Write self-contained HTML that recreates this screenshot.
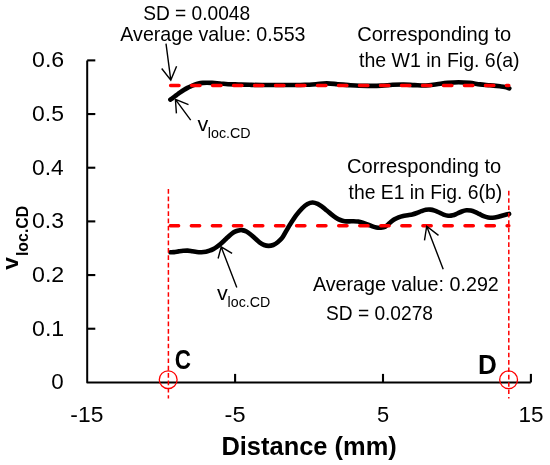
<!DOCTYPE html>
<html><head><meta charset="utf-8"><style>
html,body{margin:0;padding:0;background:#fff;}
svg{display:block;will-change:transform;}
text{font-family:"Liberation Sans", sans-serif;fill:#000;}
</style></head><body>
<svg width="550" height="465" viewBox="0 0 550 465">
<rect width="550" height="465" fill="#fff"/>
<path d="M87.2,60.38 L87.2,382.40 L530.8,382.40" fill="none" stroke="#000" stroke-width="2.0" stroke-linejoin="round"/>
<path d="M87.2,60.38 H95.3" stroke="#000" stroke-width="2.1"/>
<path d="M87.2,114.05 H95.3" stroke="#000" stroke-width="2.1"/>
<path d="M87.2,167.72 H95.3" stroke="#000" stroke-width="2.1"/>
<path d="M87.2,221.39 H95.3" stroke="#000" stroke-width="2.1"/>
<path d="M87.2,275.06 H95.3" stroke="#000" stroke-width="2.1"/>
<path d="M87.2,328.73 H95.3" stroke="#000" stroke-width="2.1"/>
<path d="M235.10,382.40 V373.9" stroke="#000" stroke-width="2.1"/>
<path d="M383.00,382.40 V373.9" stroke="#000" stroke-width="2.1"/>
<path d="M530.90,382.40 V373.9" stroke="#000" stroke-width="2.1"/>
<path d="M170.40,99.60 C170.82,99.30 171.88,98.55 172.90,97.80 C173.92,97.05 175.28,96.00 176.50,95.10 C177.72,94.20 178.98,93.25 180.20,92.40 C181.42,91.55 182.58,90.75 183.80,90.00 C185.02,89.25 186.28,88.53 187.50,87.90 C188.72,87.27 189.90,86.75 191.10,86.20 C192.30,85.65 193.48,85.05 194.70,84.60 C195.92,84.15 197.02,83.78 198.40,83.50 C199.78,83.22 201.57,83.03 203.00,82.90 C204.43,82.77 205.50,82.70 207.00,82.70 C208.50,82.70 210.33,82.82 212.00,82.90 C213.67,82.98 215.33,83.07 217.00,83.20 C218.67,83.33 220.17,83.53 222.00,83.70 C223.83,83.87 225.23,84.07 228.00,84.20 C230.77,84.33 235.02,84.40 238.60,84.50 C242.18,84.60 245.60,84.72 249.50,84.80 C253.40,84.88 256.92,84.97 262.00,85.00 C267.08,85.03 274.50,85.00 280.00,85.00 C285.50,85.00 290.83,85.03 295.00,85.00 C299.17,84.97 301.52,84.93 305.00,84.80 C308.48,84.67 312.27,84.43 315.90,84.20 C319.53,83.97 323.17,83.40 326.80,83.40 C330.43,83.40 334.07,83.92 337.70,84.20 C341.33,84.48 344.97,84.83 348.60,85.10 C352.23,85.37 355.78,85.67 359.50,85.80 C363.22,85.93 367.18,85.93 370.90,85.90 C374.62,85.87 378.17,85.78 381.80,85.60 C385.43,85.42 389.07,84.98 392.70,84.80 C396.33,84.62 399.97,84.45 403.60,84.50 C407.23,84.55 410.78,84.93 414.50,85.10 C418.22,85.27 422.18,85.65 425.90,85.50 C429.62,85.35 433.17,84.63 436.80,84.20 C440.43,83.77 444.07,83.22 447.70,82.90 C451.33,82.58 454.97,82.30 458.60,82.30 C462.23,82.30 465.93,82.55 469.50,82.90 C473.07,83.25 476.58,84.00 480.00,84.40 C483.42,84.80 486.67,84.98 490.00,85.30 C493.33,85.62 497.50,86.02 500.00,86.30 C502.50,86.58 503.45,86.65 505.00,87.00 C506.55,87.35 508.58,88.17 509.30,88.40" fill="none" stroke="#000" stroke-width="4.6" stroke-linecap="round" stroke-linejoin="round"/>
<path d="M170.50,252.30 C171.10,252.27 172.75,252.25 174.10,252.10 C175.45,251.95 177.08,251.62 178.60,251.40 C180.12,251.18 181.68,250.93 183.20,250.80 C184.72,250.67 186.18,250.52 187.70,250.60 C189.22,250.68 190.78,251.07 192.30,251.30 C193.82,251.53 195.28,251.85 196.80,252.00 C198.32,252.15 199.88,252.25 201.40,252.20 C202.92,252.15 204.55,251.95 205.90,251.70 C207.25,251.45 208.28,251.13 209.50,250.70 C210.72,250.27 211.98,249.73 213.20,249.10 C214.42,248.47 215.58,247.75 216.80,246.90 C218.02,246.05 219.28,245.03 220.50,244.00 C221.72,242.97 222.90,241.82 224.10,240.70 C225.30,239.58 226.48,238.42 227.70,237.30 C228.92,236.18 230.18,234.95 231.40,234.00 C232.62,233.05 233.82,232.20 235.00,231.60 C236.18,231.00 237.33,230.65 238.50,230.40 C239.67,230.15 240.68,229.92 242.00,230.10 C243.32,230.28 244.92,230.73 246.40,231.50 C247.88,232.27 249.43,233.53 250.90,234.70 C252.37,235.87 253.77,237.23 255.20,238.50 C256.63,239.77 258.02,241.22 259.50,242.30 C260.98,243.38 262.58,244.40 264.10,245.00 C265.62,245.60 267.08,245.90 268.60,245.90 C270.12,245.90 271.68,245.60 273.20,245.00 C274.72,244.40 276.18,243.52 277.70,242.30 C279.22,241.08 280.82,239.70 282.30,237.70 C283.78,235.70 285.23,232.62 286.60,230.30 C287.97,227.98 288.88,226.32 290.50,223.80 C292.12,221.28 294.37,217.78 296.30,215.20 C298.23,212.62 300.23,210.17 302.10,208.30 C303.97,206.43 305.75,204.97 307.50,204.00 C309.25,203.03 310.90,202.52 312.60,202.50 C314.30,202.48 316.08,203.18 317.70,203.90 C319.32,204.62 320.78,205.70 322.30,206.80 C323.82,207.90 325.28,209.23 326.80,210.50 C328.32,211.77 329.88,213.20 331.40,214.40 C332.92,215.60 334.42,216.77 335.90,217.70 C337.38,218.63 338.85,219.42 340.30,220.00 C341.75,220.58 343.13,220.97 344.60,221.20 C346.07,221.43 347.60,221.40 349.10,221.40 C350.60,221.40 352.08,221.17 353.60,221.20 C355.12,221.23 356.68,221.35 358.20,221.60 C359.72,221.85 361.18,222.25 362.70,222.70 C364.22,223.15 365.78,223.73 367.30,224.30 C368.82,224.87 370.28,225.57 371.80,226.10 C373.32,226.63 374.88,227.23 376.40,227.50 C377.92,227.77 379.42,227.85 380.90,227.70 C382.38,227.55 383.83,227.38 385.30,226.60 C386.77,225.82 388.23,224.18 389.70,223.00 C391.17,221.82 392.62,220.45 394.10,219.50 C395.58,218.55 397.08,217.90 398.60,217.30 C400.12,216.70 401.68,216.25 403.20,215.90 C404.72,215.55 406.18,215.45 407.70,215.20 C409.22,214.95 410.78,214.77 412.30,214.40 C413.82,214.03 415.28,213.53 416.80,213.00 C418.32,212.47 419.88,211.73 421.40,211.20 C422.92,210.67 424.42,210.07 425.90,209.80 C427.38,209.53 428.83,209.47 430.30,209.60 C431.77,209.73 433.23,210.12 434.70,210.60 C436.17,211.08 437.62,211.83 439.10,212.50 C440.58,213.17 442.08,214.07 443.60,214.60 C445.12,215.13 446.68,215.58 448.20,215.70 C449.72,215.82 451.18,215.67 452.70,215.30 C454.22,214.93 455.78,214.13 457.30,213.50 C458.82,212.87 460.28,212.03 461.80,211.50 C463.32,210.97 464.92,210.45 466.40,210.30 C467.88,210.15 469.30,210.35 470.70,210.60 C472.10,210.85 473.40,211.25 474.80,211.80 C476.20,212.35 477.63,213.17 479.10,213.90 C480.57,214.63 482.08,215.60 483.60,216.20 C485.12,216.80 486.68,217.23 488.20,217.50 C489.72,217.77 491.18,217.87 492.70,217.80 C494.22,217.73 495.78,217.45 497.30,217.10 C498.82,216.75 500.28,216.15 501.80,215.70 C503.32,215.25 505.18,214.70 506.40,214.40 C507.62,214.10 508.65,213.98 509.10,213.90" fill="none" stroke="#000" stroke-width="4.6" stroke-linecap="round" stroke-linejoin="round"/>
<path d="M168.4,189.1 V398.5" stroke="#ff0000" stroke-width="1.5" stroke-dasharray="4.7 2.66"/>
<path d="M508.8,190.8 V398.5" stroke="#ff0000" stroke-width="1.5" stroke-dasharray="4.6 2.76"/>
<path d="M170.6,85.5 H508.8" stroke="#ff0000" stroke-width="3.5" stroke-linecap="round" stroke-dasharray="8.4 12.59"/>
<path d="M170.3,225.65 H508.8" stroke="#ff0000" stroke-width="3.5" stroke-linecap="round" stroke-dasharray="8.3 12.75"/>
<circle cx="168.2" cy="379.7" r="8.9" fill="none" stroke="#ff0000" stroke-width="1.3"/>
<circle cx="508.6" cy="379.8" r="8.9" fill="none" stroke="#ff0000" stroke-width="1.3"/>
<path d="M166.0,43.6 L170.8,80.1 M161.7,68.5 L170.8,80.1 L176.6,66.2" fill="none" stroke="#000" stroke-width="1.4" stroke-linejoin="miter" stroke-linecap="butt"/>
<path d="M190.7,120.1 L175.4,99.4 M176.4,113.4 L175.4,99.4 L188.5,104.6" fill="none" stroke="#000" stroke-width="1.4" stroke-linejoin="miter" stroke-linecap="butt"/>
<path d="M236.8,287.5 L221.2,246.9 M218.1,258.5 L221.2,246.9 L232.1,253.4" fill="none" stroke="#000" stroke-width="1.4" stroke-linejoin="miter" stroke-linecap="butt"/>
<path d="M443.2,269.2 L426.7,226.2 M424.5,240.4 L426.7,226.2 L438.5,235.4" fill="none" stroke="#000" stroke-width="1.4" stroke-linejoin="miter" stroke-linecap="butt"/>
<text x="143.13" y="20.00" font-size="19.8" textLength="106.95" lengthAdjust="spacingAndGlyphs">SD = 0.0048</text>
<text x="120.34" y="41.00" font-size="19.8" textLength="185.14" lengthAdjust="spacingAndGlyphs">Average value: 0.553</text>
<text x="357.23" y="40.80" font-size="19.8" textLength="153.96" lengthAdjust="spacingAndGlyphs">Corresponding to</text>
<text x="359.03" y="66.50" font-size="19.8" textLength="160.57" lengthAdjust="spacingAndGlyphs">the W1 in Fig. 6(a)</text>
<text x="346.97" y="173.30" font-size="19.8" textLength="154.24" lengthAdjust="spacingAndGlyphs">Corresponding to</text>
<text x="348.56" y="198.80" font-size="19.8" textLength="153.60" lengthAdjust="spacingAndGlyphs">the E1 in Fig. 6(b)</text>
<text x="312.93" y="290.50" font-size="19.8" textLength="185.89" lengthAdjust="spacingAndGlyphs">Average value: 0.292</text>
<text x="326.02" y="320.10" font-size="19.8" textLength="106.92" lengthAdjust="spacingAndGlyphs">SD = 0.0278</text>
<text x="221.42" y="454.70" font-size="25.0" font-weight="bold" textLength="175.33" lengthAdjust="spacingAndGlyphs">Distance (mm)</text>
<text x="174.70" y="368.60" font-size="27.0" font-weight="bold" textLength="16.23" lengthAdjust="spacingAndGlyphs">C</text>
<text x="477.94" y="373.60" font-size="27.0" font-weight="bold" textLength="18.81" lengthAdjust="spacingAndGlyphs">D</text>
<text x="197.53" y="130.50" font-size="20.6" textLength="10.76" lengthAdjust="spacingAndGlyphs">v</text>
<text x="207.84" y="137.80" font-size="15.2" textLength="42.82" lengthAdjust="spacingAndGlyphs">loc.CD</text>
<text x="216.95" y="299.70" font-size="20.6" textLength="10.77" lengthAdjust="spacingAndGlyphs">v</text>
<text x="227.61" y="307.40" font-size="15.2" textLength="42.64" lengthAdjust="spacingAndGlyphs">loc.CD</text>
<text x="32.05" y="67.18" font-size="22.4" textLength="32.16" lengthAdjust="spacingAndGlyphs">0.6</text>
<text x="32.06" y="120.85" font-size="22.4" textLength="31.92" lengthAdjust="spacingAndGlyphs">0.5</text>
<text x="32.09" y="174.52" font-size="22.4" textLength="31.61" lengthAdjust="spacingAndGlyphs">0.4</text>
<text x="32.05" y="228.19" font-size="22.4" textLength="32.01" lengthAdjust="spacingAndGlyphs">0.3</text>
<text x="32.03" y="281.86" font-size="22.4" textLength="32.26" lengthAdjust="spacingAndGlyphs">0.2</text>
<text x="32.05" y="335.53" font-size="22.4" textLength="32.17" lengthAdjust="spacingAndGlyphs">0.1</text>
<text x="51.32" y="389.20" font-size="22.4" textLength="12.43" lengthAdjust="spacingAndGlyphs">0</text>
<text x="70.38" y="421.80" font-size="22.4" textLength="32.97" lengthAdjust="spacingAndGlyphs">-15</text>
<text x="224.59" y="421.80" font-size="22.4" textLength="20.97" lengthAdjust="spacingAndGlyphs">-5</text>
<text x="376.89" y="421.80" font-size="22.4" textLength="12.15" lengthAdjust="spacingAndGlyphs">5</text>
<text x="518.60" y="421.80" font-size="22.4" textLength="25.04" lengthAdjust="spacingAndGlyphs">15</text>
<g transform="rotate(-90)">
<text x="-269.72" y="17.80" font-size="21.4" font-weight="bold" textLength="12.69" lengthAdjust="spacingAndGlyphs">v</text>
<text x="-256.05" y="28.30" font-size="16.6" font-weight="bold" textLength="50.28" lengthAdjust="spacingAndGlyphs">loc.CD</text>
</g>
</svg>
</body></html>
